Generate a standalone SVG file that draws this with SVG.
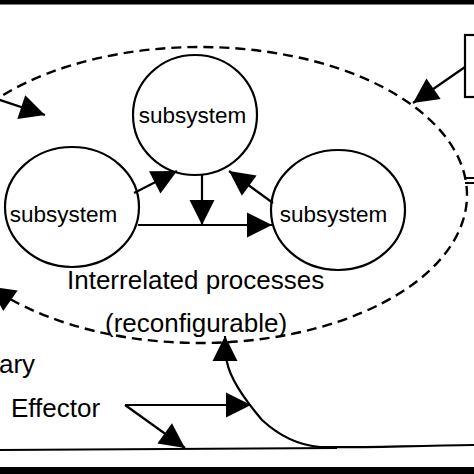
<svg xmlns="http://www.w3.org/2000/svg" width="474" height="474" viewBox="0 0 474 474">
<style>
.ln{fill:none;stroke:#000;stroke-width:2.2}
.dash{fill:none;stroke:#000;stroke-width:2.4;stroke-dasharray:10 6}
.node ellipse{fill:#fff;stroke:#000;stroke-width:2.2}
.t{font-family:"Liberation Sans",Arial,sans-serif;fill:#000}
.s{font-size:22.5px;text-anchor:middle}
.l{font-size:26px}
</style>
<defs>
<marker id="ah" markerUnits="userSpaceOnUse" markerWidth="26" markerHeight="26" refX="25" refY="12.5" orient="auto" overflow="visible">
<path d="M0,0 L25,12.5 L0,25 z" fill="#000" stroke="none"/>
</marker>
</defs>
<rect x="0" y="0" width="474" height="4.5" fill="#000"/>
<rect x="0" y="467" width="474" height="7" fill="#000"/>
<g id="boundary">
<path class="dash" d="M -10,103.6 A 267 148 0 1 1 -10,286.4" marker-end="url(#ah)"/>
</g>
<g id="node-top" class="node">
<ellipse cx="195" cy="115" rx="62" ry="60"/>
<text class="t s" x="192.5" y="123">subsystem</text>
</g>
<g id="node-left" class="node">
<ellipse cx="72" cy="207" rx="67" ry="60"/>
<text class="t s" x="63.5" y="222">subsystem</text>
</g>
<g id="node-right" class="node">
<ellipse cx="338" cy="210" rx="67" ry="60"/>
<text class="t s" x="333.5" y="222">subsystem</text>
</g>
<g id="box">
<rect x="465" y="35" width="20" height="62" fill="#fff" stroke="#000" stroke-width="2.2"/>
</g>
<g id="labels">
<text class="t l" x="67" y="289">Interrelated processes</text>
<text class="t l" x="105" y="332">(reconfigurable)</text>
<text class="t l" x="-1" y="373">ary</text>
<text class="t l" x="11" y="417">Effector</text>
</g>
<g id="connectors">
<path class="ln" d="M134,193 L177,171" marker-end="url(#ah)"/>
<path class="ln" d="M273,203 L229,171" marker-end="url(#ah)"/>
<path class="ln" d="M202,175 L202,225" marker-end="url(#ah)"/>
<path class="ln" d="M138,225 L272,225" marker-end="url(#ah)"/>
<path class="ln" d="M465,67 L413,103" marker-end="url(#ah)"/>
<path class="ln" d="M-3,99 L45,115" marker-end="url(#ah)"/>
<path class="ln" d="M125,405 L251,405" marker-end="url(#ah)"/>
<path class="ln" d="M125,405 L185,448" marker-end="url(#ah)"/>
<path class="ln" d="M0,450 L337,448"/>
<path class="ln" d="M474,445 C400,446 350,448 320,447 C295,445 275,432 262,420 C245,400 230,378 227,362 C226,355 225,345 225,336" marker-end="url(#ah)"/>
<path class="ln" stroke-width="1.5" d="M465,178 L474,178 M465,183 L474,183"/>
</g>
</svg>
